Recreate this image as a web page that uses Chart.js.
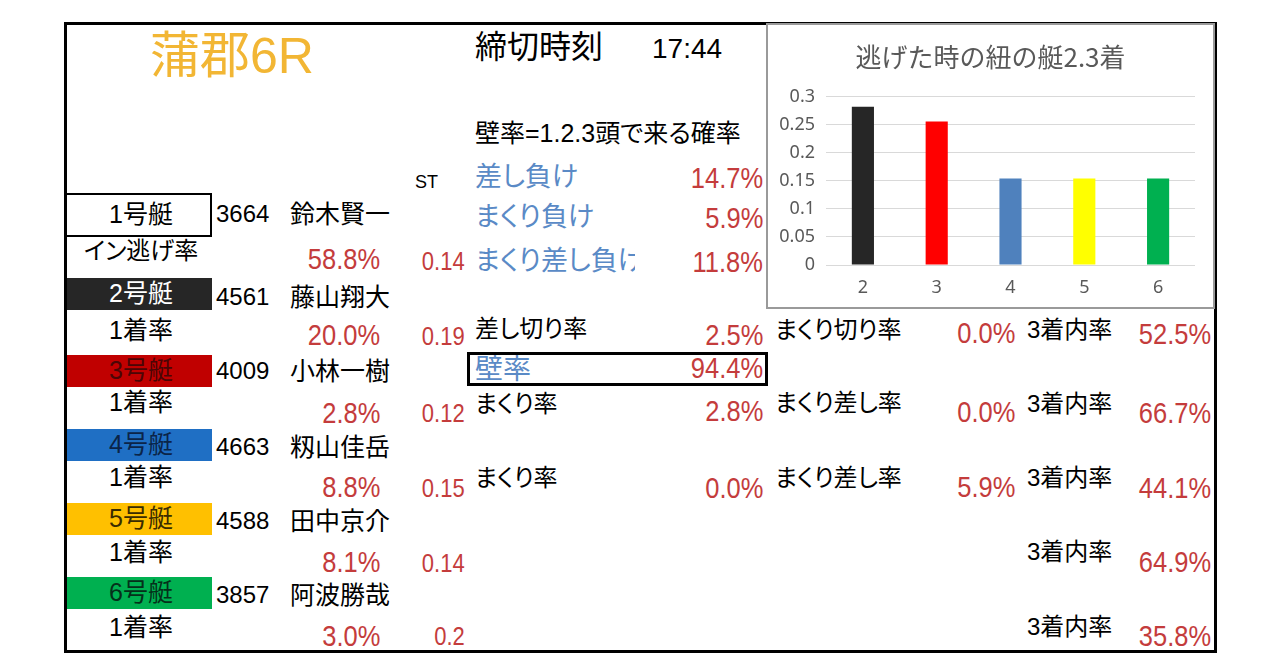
<!DOCTYPE html>
<html>
<head>
<meta charset="utf-8">
<script src="https://cdn.jsdelivr.net/npm/chart.js@4"></script>
<style>
  html, body { margin: 0; padding: 0; background: #fff; }
  #page { position: relative; width: 1280px; height: 670px; background: #fff; overflow: hidden; }
  .t { position: absolute; white-space: nowrap; font-family: "Liberation Sans", "Noto Sans CJK JP", sans-serif; font-feature-settings: "palt"; }
  .box { position: absolute; box-sizing: border-box; }
  .sx { display: inline-block; }
</style>
</head>
<body>
<div id="page">
  <div class="box" style="left:64px;top:22px;width:1153px;height:631px;border:3px solid #000;"></div>
  <div class="box" style="left:467px;top:352px;width:301px;height:34px;border:3px solid #000;"></div>
  <div class="box" id="chartBox" style="left:766px;top:23px;width:449px;height:286px;border:2px solid #9a9a9a;background:#fff;">
    <canvas id="c" width="445" height="282" style="display:block;width:445px;height:282px;"></canvas>
  </div>
</div>
<script>
// ---------- bar chart data ----------
const chartTitle = '逃げた時の紐の艇2.3着';
const boatNumbers = ['2', '3', '4', '5', '6'];
const secondThirdRates = [0.282, 0.256, 0.154, 0.154, 0.154];
const barColors = ['#262626', '#FF0000', '#4F81BD', '#FFFF00', '#00B050'];
const yTickMin = 0;
const yTickMax = 0.3;
const yTickStep = 0.05;

// ---------- table data ----------
const raceTitle = '蒲郡6R';
const deadlineLabel = '締切時刻';
const deadlineTime = '17:44';
const wallNote = '壁率=1.2.3頭で来る確率';
const laneLabels = ['1号艇', '2号艇', '3号艇', '4号艇', '5号艇', '6号艇'];
const laneFills = ['#FFFFFF', '#262626', '#C00000', '#1F6FC4', '#FFC000', '#00B050'];
const laneText = ['#000000', '#FFFFFF', '#4A0606', '#0B2448', '#3A2C00', '#05301A'];
const racerIds = ['3664', '4561', '4009', '4663', '4588', '3857'];
const racerNames = ['鈴木賢一', '藤山翔大', '小林一樹', '籾山佳岳', '田中京介', '阿波勝哉'];
const rateLabels = ['イン逃げ率', '1着率', '1着率', '1着率', '1着率', '1着率'];
const winRates = ['58.8%', '20.0%', '2.8%', '8.8%', '8.1%', '3.0%'];
const stTimes = ['0.14', '0.19', '0.12', '0.15', '0.14', '0.2'];
const lossLabels = ['差し負け', 'まくり負け', 'まくり差し負け'];
const lossRates = ['14.7%', '5.9%', '11.8%'];
const midLabels = ['差し切り率', 'まくり率', 'まくり率'];
const midRates = ['2.5%', '2.8%', '0.0%'];
const wallLabel = '壁率';
const wallRate = '94.4%';
const rightLabels = ['まくり切り率', 'まくり差し率', 'まくり差し率'];
const rightRates = ['0.0%', '0.0%', '5.9%'];
const top3Label = '3着内率';
const top3Rates = ['52.5%', '66.7%', '44.1%', '64.9%', '35.8%'];

// ---------- layout (positions only) ----------
const RED = '#C43C3C', BLUE = '#5A8AC6';
const page = document.getElementById('page');
function put(text, x, y, size, opt) {
  opt = opt || {};
  const d = document.createElement('div');
  d.className = 't';
  const lh = Math.round(size * 1.4);
  d.style.fontSize = size + 'px';
  d.style.lineHeight = lh + 'px';
  d.style.height = lh + 'px';
  d.style.top = (y - lh / 2) + 'px';
  d.style.color = opt.color || '#000';
  if (opt.anchor === 'right') d.style.right = (1280 - x) + 'px';
  else if (opt.anchor === 'center') { d.style.left = (x - 200) + 'px'; d.style.width = '400px'; d.style.textAlign = 'center'; }
  else d.style.left = x + 'px';
  if (opt.clip) { d.style.width = opt.clip + 'px'; d.style.overflow = 'hidden'; }
  if (opt.noPalt) d.style.fontFeatureSettings = 'normal';
  if (opt.sx) {
    const s = document.createElement('span');
    s.className = 'sx';
    s.textContent = text;
    s.style.transform = 'scaleX(' + opt.sx + ')';
    s.style.transformOrigin = (opt.anchor === 'right' ? 'right' : 'left') + ' center';
    d.appendChild(s);
  } else d.textContent = text;
  page.appendChild(d);
  return d;
}
function rect(x, y, w, h, fill, border) {
  const b = document.createElement('div');
  b.className = 'box';
  Object.assign(b.style, { left: x + 'px', top: y + 'px', width: w + 'px', height: h + 'px', background: fill });
  if (border) b.style.border = border;
  page.insertBefore(b, page.firstChild.nextSibling);
  return b;
}

put(raceTitle, 150, 56, 50, { color: '#F2B634' });
put(deadlineLabel, 475, 47, 32, { noPalt: true });
put(deadlineTime, 652, 48, 28);
put(wallNote, 475, 133, 25);
put('ST', 415, 182, 18);

const lossY = [177, 217, 261];
lossLabels.forEach((s, i) => put(s, 475, lossY[i], 27, { color: BLUE, clip: i === 2 ? 160 : 0 }));
lossRates.forEach((s, i) => put(s, 763, lossY[i] + 1, 30, { color: RED, anchor: 'right', sx: 0.85 }));

const boxTop = [193, 278, 355, 429, 503, 577];
const boxH = [44, 32, 32, 32, 32, 32];
const nameY = [214, 297, 371, 447, 521, 595];
const rateLabelY = [251, 330, 402, 477, 552, 627];
const rateY = [259, 335, 413, 487, 562, 636];
const stY = [261, 336, 413, 488, 563, 636];
laneLabels.forEach((s, i) => {
  if (i === 0) rect(65, boxTop[i], 147, boxH[i], laneFills[i], '2px solid #000');
  else rect(67, boxTop[i], 145, boxH[i], laneFills[i]);
  put(s, 141, boxTop[i] + boxH[i] / 2 - 1, 25, { color: laneText[i], anchor: 'center' });
  put(racerIds[i], 216, nameY[i], 24);
  put(racerNames[i], 290, nameY[i], 25);
  put(rateLabels[i], 141, rateLabelY[i], i === 0 ? 24 : 25, { anchor: 'center' });
  put(winRates[i], 380, rateY[i], 30, { color: RED, anchor: 'right', sx: 0.85 });
  put(stTimes[i], 465, stY[i], 25, { color: RED, anchor: 'right', sx: 0.88 });
});

const midLabelY = [329, 404, 478];
const midRateY = [335, 411, 488];
midLabels.forEach((s, i) => put(s, 475, midLabelY[i], 24));
midRates.forEach((s, i) => put(s, 763, midRateY[i], 30, { color: RED, anchor: 'right', sx: 0.85 }));
put(wallLabel, 475, 369, 28, { color: BLUE });
put(wallRate, 763, 368, 30, { color: RED, anchor: 'right', sx: 0.85 });

const rightLabelY = [330, 403, 478];
const rightRateY = [333, 412, 487];
rightLabels.forEach((s, i) => put(s, 775, rightLabelY[i], 24));
rightRates.forEach((s, i) => put(s, 1015, rightRateY[i], 30, { color: RED, anchor: 'right', sx: 0.85 }));

const top3LabelY = [330, 404, 478, 552, 627];
const top3RateY = [334, 413, 488, 562, 636];
top3Rates.forEach((s, i) => {
  put(top3Label, 1027, top3LabelY[i], 24);
  put(s, 1211, top3RateY[i], 30, { color: RED, anchor: 'right', sx: 0.85 });
});

// bring chart box to front
page.appendChild(document.getElementById('chartBox'));

// ---------- Chart.js bar chart ----------
const tickFont = { family: '"Noto Sans", sans-serif', size: 18 };
new Chart(document.getElementById('c'), {
  type: 'bar',
  data: {
    labels: boatNumbers,
    datasets: [{
      data: secondThirdRates,
      backgroundColor: barColors,
      borderWidth: 0,
      barPercentage: 0.3,
      categoryPercentage: 1
    }]
  },
  options: {
    responsive: false,
    animation: false,
    devicePixelRatio: 1,
    layout: { padding: { left: 0, right: 0, top: 0, bottom: 10 } },
    plugins: {
      legend: { display: false },
      tooltip: { enabled: false },
      title: {
        display: true,
        text: chartTitle,
        color: '#595959',
        font: { family: '"Noto Sans CJK JP", sans-serif', size: 26, weight: 'normal' },
        padding: { top: 16.4, bottom: 24.1 }
      }
    },
    scales: {
      x: {
        grid: { display: false, drawTicks: false },
        border: { display: false },
        afterFit: (scale) => { scale.height = 32; },
        ticks: { color: '#595959', font: tickFont, padding: 12 }
      },
      y: {
        min: yTickMin,
        max: yTickMax,
        grid: { color: '#D9D9D9', lineWidth: 1, drawTicks: false },
        border: { display: false },
        afterFit: (scale) => { scale.width = 58; },
        ticks: {
          stepSize: yTickStep,
          color: '#595959',
          padding: 11,
          font: tickFont,
          callback: (v) => String(+(+v).toFixed(2))
        }
      },
      yRight: {
        type: 'linear',
        position: 'right',
        display: true,
        grid: { display: false, drawTicks: false },
        border: { display: false },
        ticks: { display: false },
        afterFit: (scale) => { scale.width = 18; }
      }
    }
  }
});
</script>
</body>
</html>
